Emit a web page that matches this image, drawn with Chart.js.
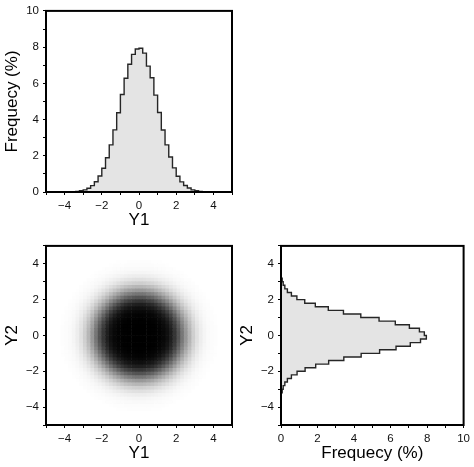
<!DOCTYPE html>
<html>
<head>
<meta charset="utf-8">
<script src="https://cdn.jsdelivr.net/npm/chart.js@4.4.1/dist/chart.umd.min.js"></script>
<style>
  html, body { margin: 0; padding: 0; background: #fff; }
  #wrap { position: relative; width: 474px; height: 467px; overflow: hidden; }
  canvas { position: absolute; }
</style>
</head>
<body>
<div id="wrap">
  <canvas id="histY1" width="236" height="235" style="left:0;top:0"></canvas>
  <canvas id="scatter" width="236" height="232" style="left:0;top:235px"></canvas>
  <canvas id="histY2" width="239" height="232" style="left:235px;top:235px"></canvas>
</div>
<script>
// bin centres of both histograms (bin width 0.2)
const binCenters = [
  -4.3, -4.1, -3.9, -3.7, -3.5, -3.3, -3.1, -2.9, -2.7, -2.5, -2.3,
  -2.1, -1.9, -1.7, -1.5, -1.3, -1.1, -0.9, -0.7, -0.5, -0.3, -0.1,
   0.1,  0.3,  0.5,  0.7,  0.9,  1.1,  1.3,  1.5,  1.7,  1.9,  2.1,
   2.3,  2.5,  2.7,  2.9,  3.1,  3.3,  3.5,  3.7,  3.9,  4.1,  4.3
];
const binWidth = 0.2;

// frequency (%) per bin
const y1Freq = [
  0.001, 0.002, 0.004, 0.008, 0.017, 0.035, 0.067, 0.12, 0.21, 0.35, 0.57,
  0.88, 1.31, 1.89, 2.60, 3.43, 4.38, 5.38, 6.28, 7.05, 7.60, 7.90,
  7.94, 7.67, 6.95, 6.31, 5.35, 4.39, 3.42, 2.60, 1.93, 1.33, 0.87,
  0.56, 0.36, 0.22, 0.12, 0.066, 0.035, 0.017, 0.008, 0.004, 0.002, 0.001
];
const y2Freq = [
  0.001, 0.002, 0.004, 0.009, 0.017, 0.034, 0.066, 0.12, 0.21, 0.35, 0.57,
  0.88, 1.32, 1.90, 2.61, 3.44, 4.39, 5.40, 6.30, 7.08, 7.64, 7.96,
  7.85, 7.58, 7.03, 6.26, 5.37, 4.37, 3.42, 2.59, 1.88, 1.30, 0.87,
  0.57, 0.35, 0.21, 0.12, 0.067, 0.035, 0.017, 0.008, 0.004, 0.002, 0.001
];

const valueTicks = [-4, -2, 0, 2, 4];
const freqTicks = [0, 2, 4, 6, 8, 10];

const FONT = "'Liberation Sans', Arial, sans-serif";

// outline points of a histogram: (edge, value) pairs
function stepPoints(freq, swap) {
  let pts = [];
  const lo0 = +(binCenters[0] - binWidth / 2).toFixed(2);
  pts.push([lo0, 0]);
  for (let i = 0; i < freq.length; i++) {
    const lo = +(binCenters[i] - binWidth / 2).toFixed(2);
    const hi = +(binCenters[i] + binWidth / 2).toFixed(2);
    pts.push([lo, freq[i]]);
    pts.push([hi, freq[i]]);
  }
  const hiN = +(binCenters[binCenters.length - 1] + binWidth / 2).toFixed(2);
  pts.push([hiN, 0]);
  return pts.map(p => swap ? {x: p[1], y: p[0]} : {x: p[0], y: p[1]});
}

function axis(min, max, title, titlePad, labels, size, horizontal) {
  return {
    type: 'linear', min: min, max: max,
    afterFit: s => { if (horizontal) s.height = size; else s.width = size; },
    ticks: {
      stepSize: 1, autoSkip: false, padding: 4, color: '#111',
      maxRotation: 0, minRotation: 0,
      font: {family: FONT, size: 11.5},
      callback: v => labels.includes(v) ? String(v).replace('-', '\u2212') : ''
    },
    grid: { drawOnChartArea: false, drawTicks: true, tickLength: 3, tickColor: '#000', tickWidth: 1 },
    border: { display: false },
    title: {
      display: true, text: title, color: '#000',
      font: {family: FONT, size: 17},
      padding: {top: titlePad, bottom: titlePad}
    }
  };
}

const frame = {
  id: 'frame',
  afterDraw(chart) {
    const {ctx, chartArea: a} = chart;
    ctx.save();
    ctx.strokeStyle = '#000';
    ctx.lineWidth = 2;
    ctx.strokeRect(a.left, a.top, a.right - a.left, a.bottom - a.top);
    ctx.restore();
  }
};

const common = {
  responsive: false,
  animation: false,
  events: [],
  plugins: { legend: {display: false}, tooltip: {enabled: false} }
};

const histStyle = {
  borderColor: '#262626',
  borderWidth: 1.4,
  backgroundColor: '#e4e4e4',
  pointRadius: 0,
  tension: 0,
  fill: 'origin'
};

// top: Y1 histogram
new Chart(document.getElementById('histY1'), {
  type: 'line',
  data: { datasets: [Object.assign({data: stepPoints(y1Freq, false)}, histStyle)] },
  options: Object.assign({}, common, {
    layout: {padding: {top: 5, right: 3, left: 0, bottom: 0}},
    scales: {
      x: axis(-5, 5, 'Y1', 4, valueTicks, 43, true),
      y: axis(0, 10, 'Frequecy (%)', 2.5, freqTicks, 46, false)
    }
  }),
  plugins: [frame]
});

// bottom left: Y1 vs Y2 point cloud, shaded from both marginals
const cloud = [];
binCenters.forEach((cx, i) => {
  binCenters.forEach((cy, j) => {
    const d = y1Freq[i] * y2Freq[j];
    const a = 1 - Math.exp(-0.22 * Math.pow(d, 0.84));
    if (a > 0.004) cloud.push({x: cx, y: cy, a: a});
  });
});
cloud.sort((p, q) => p.a - q.a);

new Chart(document.getElementById('scatter'), {
  type: 'scatter',
  data: {
    datasets: [{
      data: cloud,
      pointStyle: 'rect',
      pointRadius: 3,
      borderWidth: 0,
      backgroundColor: c => {
        const g = Math.round(255 * (1 - c.raw.a));
        return 'rgb(' + g + ',' + g + ',' + g + ')';
      }
    }]
  },
  options: Object.assign({}, common, {
    layout: {padding: {top: 3, right: 3, left: 0, bottom: 0}},
    scales: {
      x: axis(-5, 5, 'Y1', 3, valueTicks, 42, true),
      y: axis(-5, 5, 'Y2', 2, valueTicks, 46, false)
    }
  }),
  plugins: [frame]
});

// bottom right: Y2 histogram, horizontal
new Chart(document.getElementById('histY2'), {
  type: 'line',
  data: { datasets: [Object.assign({data: stepPoints(y2Freq, true)}, histStyle)] },
  options: Object.assign({}, common, {
    indexAxis: 'y',
    layout: {padding: {top: 3, right: 6, left: 0, bottom: 0}},
    scales: {
      x: axis(0, 10, 'Frequecy (%)', 3, freqTicks, 42, true),
      y: axis(-5, 5, 'Y2', 2, valueTicks, 46, false)
    }
  }),
  plugins: [frame]
});
</script>
</body>
</html>
